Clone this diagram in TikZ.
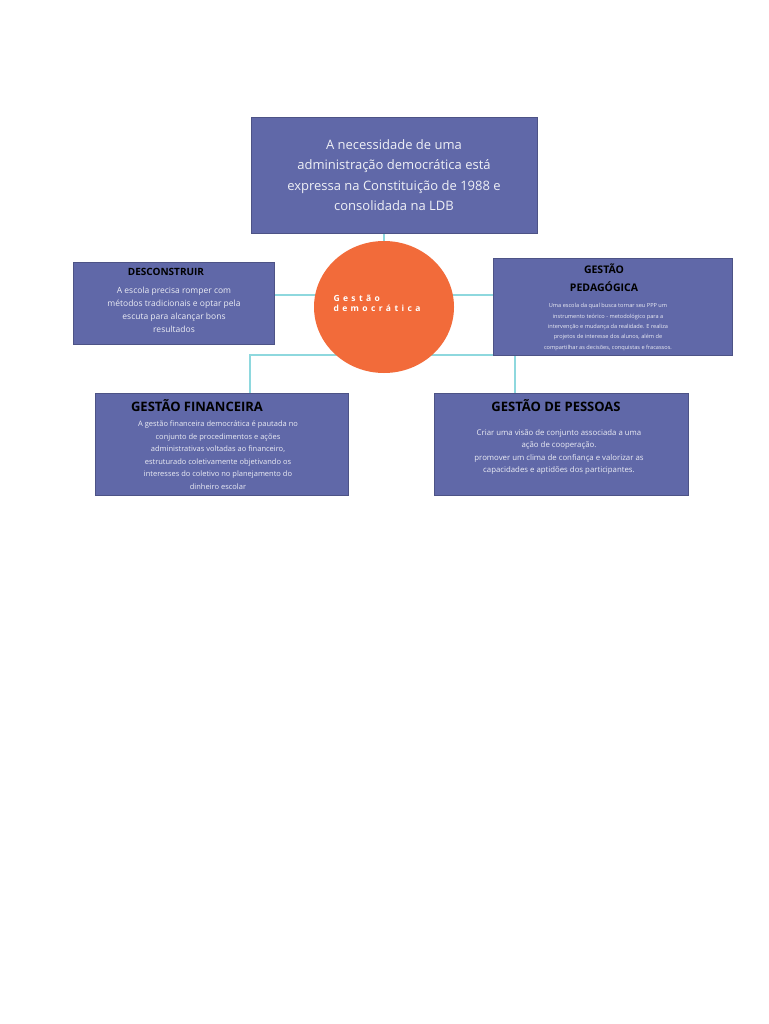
\documentclass[tikz,border=0pt]{standalone}
\usepackage{fontspec}
\setmainfont{Open Sans}
\usetikzlibrary{shapes.geometric}
\definecolor{boxc}{HTML}{6068A8}
\definecolor{linec}{HTML}{8ED8DE}
\definecolor{orangec}{HTML}{F26B3A}
\begin{document}
\begin{tikzpicture}[x=1pt,y=-1pt,
 box/.style={fill=boxc,draw=boxc!80!black,line width=0.4pt,inner sep=0pt,anchor=north west},
 conn/.style={linec,line width=1.6pt},
 body/.style={text=white!88!boxc,align=center,font=\fontsize{8.5}{10.5}\selectfont},
 head/.style={text=black,font=\bfseries,align=center}]
\useasboundingbox (0,0) rectangle (768,1024);
\fill[white] (0,0) rectangle (768,1024);
% connectors
\coordinate (j1) at (250,355);
\coordinate (j2) at (515,355);
\draw[conn] (384,233) -- (384,245);
\draw[conn] (274,295) -- (493,295);
\draw[conn] (250,393) -- (j1) -- (j2) -- (515,393);
% boxes
\node[box,minimum width=286,minimum height=116] (top) at (251,117) {};
\node[text=white!90!boxc,align=center,font=\fontsize{13}{20.5}\selectfont] at (394,175)
 {A necessidade de uma\\administração democrática está\\expressa na Constituição de 1988 e\\consolidada na LDB};
\node[box,minimum width=201,minimum height=82] (des) at (73,262) {};
\node[head,font=\bfseries\fontsize{10}{12}\selectfont] at (166,272) {DESCONSTRUIR};
\node[body,font=\fontsize{8.5}{13}\selectfont] at (174,310) {A escola precisa romper com\\métodos tradicionais e optar pela\\escuta para alcançar bons\\resultados};
\node[box,minimum width=239,minimum height=97] (ped) at (493,258) {};
\node[head,font=\bfseries\fontsize{10.5}{18}\selectfont] at (604,278) {GESTÃO\\PEDAGÓGICA};
\node[body,font=\fontsize{5.6}{10.3}\selectfont] at (608,327) {Uma escola da qual busca tornar seu PPP um\\instrumento teórico - metodológico para a\\intervenção e mudança da realidade. E realiza\\projetos de interesse dos alunos, além de\\compartilhar as decisões, conquistas e fracassos.};
\node[box,minimum width=253,minimum height=102] (fin) at (95,393) {};
\node[head,font=\bfseries\fontsize{13}{15}\selectfont] at (197,406) {GESTÃO FINANCEIRA};
\node[body,font=\fontsize{7.5}{12.5}\selectfont] at (218,455) {A gestão financeira democrática é pautada no\\conjunto de procedimentos e ações\\administrativas voltadas ao financeiro,\\estruturado coletivamente objetivando os\\interesses do coletivo no planejamento do\\dinheiro escolar};
\node[box,minimum width=254,minimum height=102] (pes) at (434,393) {};
\node[head,font=\bfseries\fontsize{13}{15}\selectfont] at (556,406) {GESTÃO DE PESSOAS};
\node[body,font=\fontsize{7.8}{12.5}\selectfont] at (559,452) {Criar uma visão de conjunto associada a uma\\ação de cooperação.\\promover um clima de confiança e valorizar as\\capacidades e aptidões dos participantes.};
% circle
\node[ellipse,fill=orangec,minimum width=140,minimum height=132,inner sep=0pt] (c) at (384,307) {};
\node[text=white,font=\bfseries\fontsize{8.5}{10}\selectfont,align=left] at (377,303)
 {\addfontfeatures{LetterSpace=40}Gestão\\\addfontfeatures{LetterSpace=40}democrática};
\end{tikzpicture}
\end{document}
